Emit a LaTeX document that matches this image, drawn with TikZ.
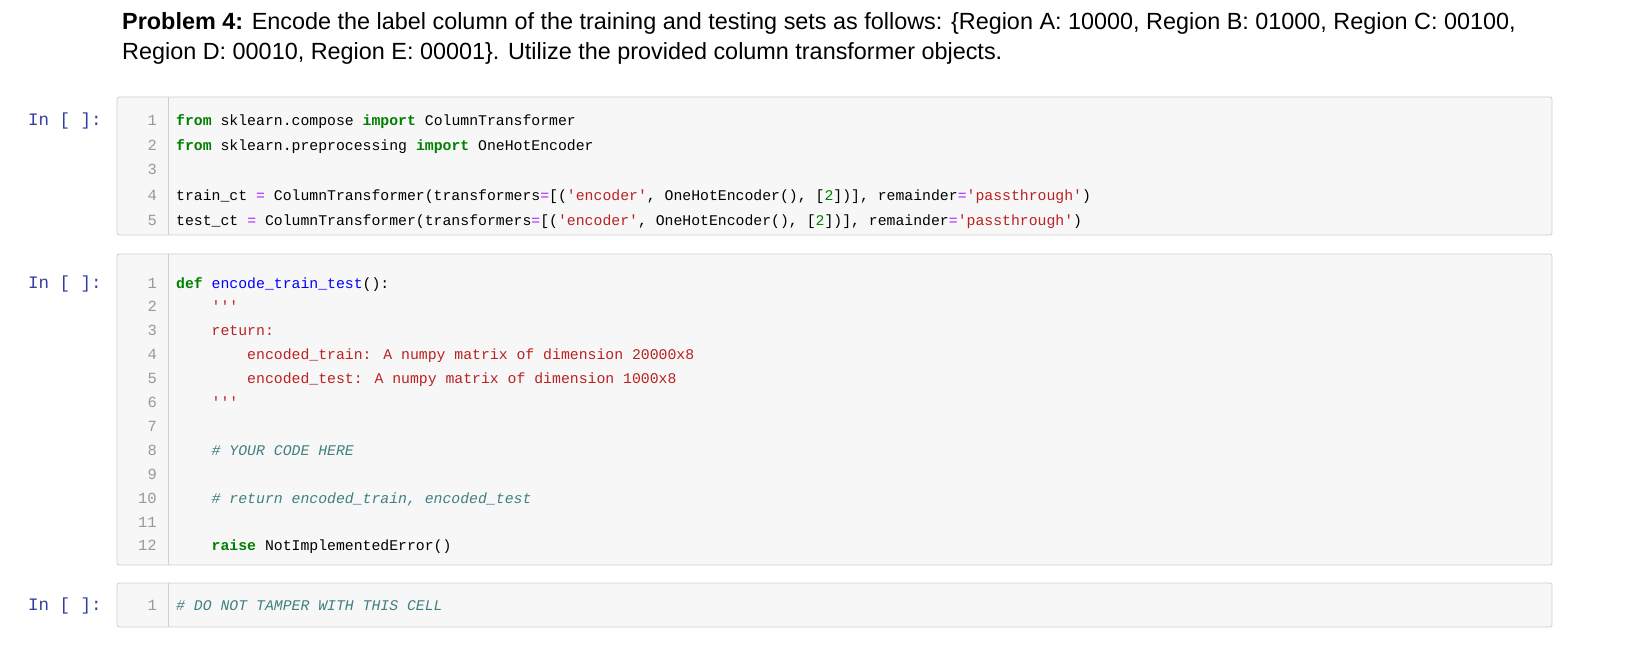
\documentclass[tikz,border=0pt]{standalone}
\usepackage{fontspec}
\setmainfont{Liberation Sans}
\newfontfamily\codefont{Liberation Mono}
\definecolor{kwc}{RGB}{0,128,0}
\definecolor{opc}{RGB}{170,34,255}
\definecolor{strc}{RGB}{186,33,33}
\definecolor{cmc}{RGB}{64,128,128}
\definecolor{fnc}{RGB}{0,0,255}
\definecolor{promptc}{RGB}{48,63,159}
\definecolor{cellbg}{RGB}{247,247,247}
\definecolor{cellbd}{RGB}{207,207,207}
\definecolor{lnc}{RGB}{153,153,153}
\newcommand\kw[1]{\textcolor{kwc}{\textbf{#1}}}
\newcommand\cop[1]{\textcolor{opc}{#1}}
\newcommand\cstr[1]{\textcolor{strc}{#1}}
\newcommand\ccm[1]{\textcolor{cmc}{\textit{#1}}}
\newcommand\cnum[1]{\textcolor{kwc}{#1}}
\newcommand\cfn[1]{\textcolor{fnc}{#1}}
\newcommand\q{\textquotesingle}
\newcommand\ind{\hspace*{2.4em}}
\begin{document}
\begin{tikzpicture}[x=1pt,y=-1pt,
  cell/.style={draw=cellbd,fill=cellbg,line width=0.8pt,rounded corners=2pt},
  code/.style={anchor=base west,inner sep=0pt,font=\codefont\fontsize{14.8}{17}\selectfont},
  lnum/.style={anchor=base east,inner sep=0pt,text=lnc,font=\codefont\fontsize{15.5}{17}\selectfont},
  prompt/.style={anchor=base west,inner sep=0pt,text=promptc,font=\codefont\fontsize{17.5}{20}\selectfont},
  gut/.style={draw=cellbd,line width=0.8pt},
  prob/.style={anchor=base west,inner sep=0pt,font=\fontsize{23.4}{26}\selectfont}]
\useasboundingbox (0,0) rectangle (1627,666);
\node[prob] (p1) at (122,30) {\textbf{Problem 4:} Encode the label column of the training and testing sets as follows: \{Region A: 10000, Region B: 01000, Region C: 00100,};
\node[prob] (p2) at (122,60) {Region D: 00010, Region E: 00001\}. Utilize the provided column transformer objects.};
% cell 1
\draw[cell] (117,97) rectangle (1552,235);
\draw[gut] (168,97) -- (168,235);
\node[prompt] (in1) at (28,125) {In [ ]:};
\node[lnum] (l11) at (157,125) {1};
\node[lnum] (l12) at (157,150) {2};
\node[lnum] (l13) at (157,175) {3};
\node[lnum] (l14) at (157,200) {4};
\node[lnum] (l15) at (157,225) {5};
\node[code] (c11) at (176,125) {\kw{from} sklearn.compose \kw{import} ColumnTransformer};
\node[code] (c12) at (176,150) {\kw{from} sklearn.preprocessing \kw{import} OneHotEncoder};
\node[code] (c14) at (176,200) {train\_ct \cop{=} ColumnTransformer(transformers\cop{=}[(\cstr{\q encoder\q}, OneHotEncoder(), [\cnum{2}])], remainder\cop{=}\cstr{\q passthrough\q})};
\node[code] (c15) at (176,225) {test\_ct \cop{=} ColumnTransformer(transformers\cop{=}[(\cstr{\q encoder\q}, OneHotEncoder(), [\cnum{2}])], remainder\cop{=}\cstr{\q passthrough\q})};
% cell 2
\draw[cell] (117,254) rectangle (1552,565);
\draw[gut] (168,254) -- (168,565);
\node[prompt] (in2) at (28,288) {In [ ]:};
\foreach \n in {1,...,12} {\node[lnum] (l2\n) at (157,{288+23.9*(\n-1)}) {\n};}
\node[code] (c21) at (176,288) {\kw{def} \cfn{encode\_train\_test}():};
\node[code] (c22) at (176,311.9) {\ind\cstr{\q\q\q}};
\node[code] (c23) at (176,335.8) {\ind\cstr{return:}};
\node[code] (c24) at (176,359.7) {\ind\ind\cstr{encoded\_train: A numpy matrix of dimension 20000x8}};
\node[code] (c25) at (176,383.6) {\ind\ind\cstr{encoded\_test: A numpy matrix of dimension 1000x8}};
\node[code] (c26) at (176,407.5) {\ind\cstr{\q\q\q}};
\node[code] (c28) at (176,455.3) {\ind\ccm{\# YOUR CODE HERE}};
\node[code] (c210) at (176,503.1) {\ind\ccm{\# return encoded\_train, encoded\_test}};
\node[code] (c212) at (176,550.9) {\ind\kw{raise} NotImplementedError()};
% cell 3
\draw[cell] (117,583) rectangle (1552,627);
\draw[gut] (168,583) -- (168,627);
\node[prompt] (in3) at (28,610) {In [ ]:};
\node[lnum] (l31) at (157,610) {1};
\node[code] (c31) at (176,610) {\ccm{\# DO NOT TAMPER WITH THIS CELL}};
\end{tikzpicture}
\end{document}
